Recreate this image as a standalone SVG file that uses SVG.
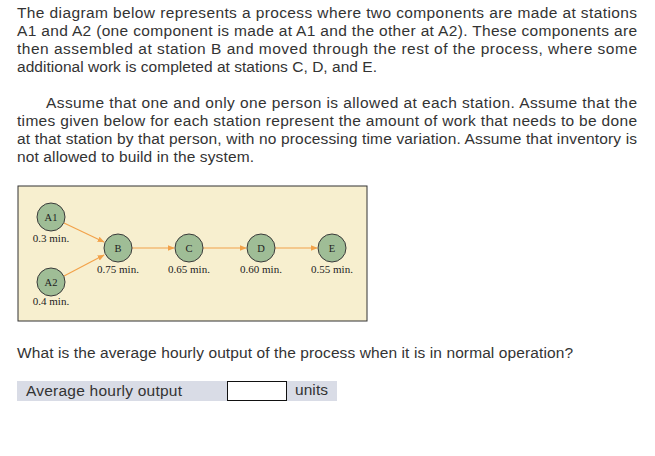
<svg xmlns="http://www.w3.org/2000/svg" width="655" height="456" viewBox="0 0 655 456">
<defs>
<style>
.t{font-family:"Liberation Sans",Arial,sans-serif;font-size:15.5px;fill:#333}
.n{fill:#9fbd96;stroke:#3a3a3a;stroke-width:1}
.nl{font-family:"Liberation Serif","Times New Roman",serif;font-size:10.5px;fill:#222;text-anchor:middle}
.ml{font-family:"Liberation Serif","Times New Roman",serif;font-size:11px;fill:#222;text-anchor:middle}
.c{stroke:#f2a24a;stroke-width:1.2;fill:none;marker-end:url(#ah)}
</style>
<marker id="ah" viewBox="0 0 10 10" refX="9" refY="5" markerWidth="7" markerHeight="7" orient="auto" markerUnits="userSpaceOnUse">
<path d="M0,1 L10,5 L0,9 z" fill="#f2a24a"/>
</marker>
</defs>
<rect width="655" height="456" fill="#fff"/>
<g id="intro">
<text class="t" x="17" y="18" textLength="620">The diagram below represents a process where two components are made at stations</text>
<text class="t" x="17" y="36" textLength="620">A1 and A2 (one component is made at A1 and the other at A2). These components are</text>
<text class="t" x="17" y="54" textLength="620">then assembled at station B and moved through the rest of the process, where some</text>
<text class="t" x="17" y="72" textLength="360">additional work is completed at stations C, D, and E.</text>
<text class="t" x="46" y="108" textLength="591">Assume that one and only one person is allowed at each station. Assume that the</text>
<text class="t" x="17" y="126" textLength="620">times given below for each station represent the amount of work that needs to be done</text>
<text class="t" x="17" y="144" textLength="620">at that station by that person, with no processing time variation. Assume that inventory is</text>
<text class="t" x="17" y="162" textLength="237">not allowed to build in the system.</text>
</g>
<rect x="18" y="186" width="349" height="135" fill="#f7efcf" stroke="#333" stroke-width="1"/>
<g id="connectors">
<line class="c" x1="64" y1="223" x2="104" y2="242"/>
<line class="c" x1="64" y1="276" x2="104" y2="255"/>
<line class="c" x1="132" y1="248" x2="174" y2="248"/>
<line class="c" x1="203" y1="248" x2="246" y2="248"/>
<line class="c" x1="275" y1="248" x2="317" y2="248"/>
</g>
<g id="A1"><circle class="n" cx="51" cy="217" r="14"/><text class="nl" x="51" y="221">A1</text><text class="ml" x="51" y="242">0.3 min.</text></g>
<g id="A2"><circle class="n" cx="51" cy="282" r="14"/><text class="nl" x="51" y="286">A2</text><text class="ml" x="51" y="305">0.4 min.</text></g>
<g id="B"><circle class="n" cx="118" cy="248" r="14"/><text class="nl" x="118" y="252">B</text><text class="ml" x="118" y="273">0.75 min.</text></g>
<g id="C"><circle class="n" cx="189" cy="248" r="14"/><text class="nl" x="189" y="252">C</text><text class="ml" x="189" y="273">0.65 min.</text></g>
<g id="D"><circle class="n" cx="261" cy="248" r="14"/><text class="nl" x="261" y="252">D</text><text class="ml" x="261" y="273">0.60 min.</text></g>
<g id="E"><circle class="n" cx="332" cy="248" r="14"/><text class="nl" x="332" y="252">E</text><text class="ml" x="332" y="273">0.55 min.</text></g>
<g id="question">
<text class="t" x="17" y="358" textLength="556">What is the average hourly output of the process when it is in normal operation?</text>
<rect x="17" y="381" width="320" height="20" fill="#d9dce6"/>
<text class="t" x="26" y="396" textLength="156">Average hourly output</text>
<rect x="227.5" y="381.5" width="59" height="19" fill="#fff" stroke="#111" stroke-width="1"/>
<text class="t" x="295" y="395" textLength="33">units</text>
</g>
</svg>
